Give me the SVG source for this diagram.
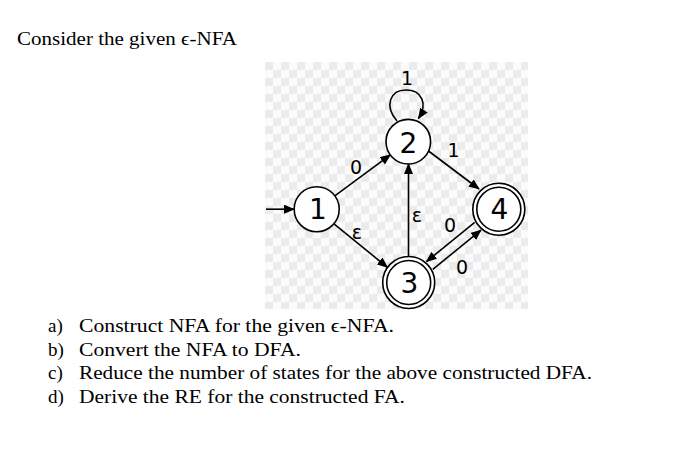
<svg xmlns="http://www.w3.org/2000/svg" width="689" height="456" viewBox="0 0 689 456">
<defs>
<pattern id="chk" x="265" y="62" width="16" height="16" patternUnits="userSpaceOnUse">
<rect width="16" height="16" fill="#fbfbfb"/>
<rect width="8" height="8" fill="#ebebeb"/>
<rect x="8" y="8" width="8" height="8" fill="#ebebeb"/>
</pattern>
<marker id="ah" markerUnits="userSpaceOnUse" markerWidth="11" markerHeight="9" refX="10" refY="4.5" orient="auto">
<path d="M0,0 L11,4.5 L0,9 z" fill="#000"/>
</marker>
<style>
.t{font-family:"Liberation Serif","Times New Roman","DejaVu Serif",serif;font-size:19px;fill:#000}
.n{fill:#fff;stroke:#000;stroke-width:1.6}
.nl{font-family:"DejaVu Sans",sans-serif;font-size:28px;fill:#000;text-anchor:middle}
.el{font-family:"DejaVu Sans",sans-serif;font-size:19px;fill:#000;text-anchor:middle}
.e{fill:none;stroke:#000;stroke-width:1.6;marker-end:url(#ah)}
</style>
</defs>
<rect width="689" height="456" fill="#fff"/>
<text class="t" x="17" y="44.5" textLength="220" lengthAdjust="spacingAndGlyphs">Consider the given ϵ-NFA</text>
<rect x="265" y="62" width="263" height="247" fill="url(#chk)"/>
<g id="connectors">
<line class="e" x1="266" y1="209.2" x2="294" y2="209.2"/>
<line class="e" x1="334.8" y1="195.9" x2="390.3" y2="154.9"/>
<line class="e" x1="334.3" y1="224.2" x2="387.4" y2="267.3"/>
<line class="e" x1="408.5" y1="256.5" x2="408.5" y2="164"/>
<line class="e" x1="428.5" y1="151" x2="479" y2="189"/>
<line class="e" x1="474.7" y1="222.3" x2="426.5" y2="261.6"/>
<line class="e" x1="432.8" y1="269.4" x2="481" y2="230.1"/>
<path class="e" d="M397,121 C384,106 390,90 406,90 C422,90 428,104 418.5,118.5"/>
<text class="el" x="407" y="85">1</text>
<text class="el" x="356" y="174">0</text>
<text class="el" x="453.5" y="157">1</text>
<text class="el" x="357" y="238.5">ε</text>
<text class="el" x="417" y="221.5">ε</text>
<text class="el" x="450" y="231.5">0</text>
<text class="el" x="462" y="273.5">0</text>
</g>
<g id="node1">
<circle class="n" cx="316.7" cy="209.2" r="22.5"/>
<text class="nl" x="318" y="219">1</text>
</g>
<g id="node2">
<circle class="n" cx="408.3" cy="141.7" r="22.3"/>
<text class="nl" x="408.5" y="152.5">2</text>
</g>
<g id="node3">
<circle class="n" cx="408.7" cy="282.5" r="26"/>
<circle class="n" cx="408.7" cy="282.5" r="22"/>
<text class="nl" x="409.5" y="293">3</text>
</g>
<g id="node4">
<circle class="n" cx="498.8" cy="209.2" r="26"/>
<circle class="n" cx="498.8" cy="209.2" r="22"/>
<text class="nl" x="499.3" y="219.3">4</text>
</g>
<g id="questions">
<text class="t" x="48" y="332">a)</text>
<text class="t" x="79" y="332" textLength="315" lengthAdjust="spacingAndGlyphs">Construct NFA for the given ϵ-NFA.</text>
<text class="t" x="48" y="355.5">b)</text>
<text class="t" x="79" y="355.5" textLength="222" lengthAdjust="spacingAndGlyphs">Convert the NFA to DFA.</text>
<text class="t" x="48" y="379">c)</text>
<text class="t" x="79" y="379" textLength="513" lengthAdjust="spacingAndGlyphs">Reduce the number of states for the above constructed DFA.</text>
<text class="t" x="48" y="402.5">d)</text>
<text class="t" x="79" y="402.5" textLength="326" lengthAdjust="spacingAndGlyphs">Derive the RE for the constructed FA.</text>
</g>
</svg>
